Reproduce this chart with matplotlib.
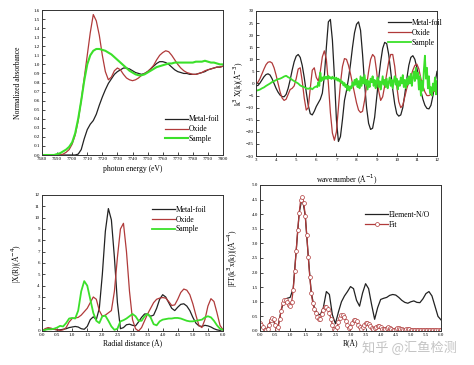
import numpy as np
import matplotlib
matplotlib.use("Agg")
import matplotlib.pyplot as plt

plt.rcParams['font.family'] = ['Liberation Serif', 'DejaVu Serif']

# ---- panel 1: XANES ----
energy = np.arange(7680, 7801, 2)
xanes_foil = [0, 0, 0, 0, 0, 0, 0, 0, 0, 0, 0, 0,
              0.01, 0.06, 0.18, 0.28, 0.34, 0.38, 0.45, 0.55, 0.64, 0.72, 0.79, 0.84,
              0.89, 0.92, 0.94, 0.96, 0.96, 0.95, 0.93, 0.91, 0.90, 0.89, 0.90, 0.92,
              0.95, 0.98, 1.01, 1.03, 1.03, 1.02, 1.00, 0.97, 0.94, 0.92, 0.91, 0.90,
              0.90, 0.89, 0.89, 0.89, 0.90, 0.91, 0.92, 0.94, 0.95, 0.96, 0.97, 0.97, 0.98]
xanes_oxide = [0, 0, 0, 0, 0, 0,
               0.0, 0.01, 0.03, 0.06, 0.12, 0.22, 0.38, 0.60, 0.85, 1.10, 1.35, 1.55,
               1.48, 1.32, 1.10, 0.92, 0.83, 0.86, 0.93, 0.96, 0.94, 0.89, 0.85, 0.83,
               0.82, 0.83, 0.85, 0.88, 0.90, 0.92, 0.95, 0.99, 1.05, 1.10, 1.13, 1.15,
               1.14, 1.10, 1.05, 1.00, 0.96, 0.93, 0.91, 0.90, 0.89, 0.89, 0.90, 0.91,
               0.93, 0.94, 0.95, 0.96, 0.97, 0.97, 0.98]
xanes_sample = [0, 0, 0, 0, 0.0, 0.01, 0.02, 0.04, 0.06, 0.09, 0.14, 0.24, 0.40,
                0.60, 0.82, 1.00, 1.10, 1.15, 1.17, 1.17, 1.16, 1.15, 1.13, 1.11, 1.08,
                1.05, 1.02, 0.99, 0.96, 0.93, 0.91, 0.89, 0.88, 0.88, 0.89, 0.91, 0.93,
                0.95, 0.97, 0.98, 0.99, 1.00, 1.01, 1.01, 1.02, 1.02, 1.02, 1.02, 1.02,
                1.02, 1.02, 1.03, 1.03, 1.03, 1.04, 1.03, 1.02, 1.02, 1.01, 1.00, 1.00]

# ---- panel 2: k^3 chi(k) ----
k = np.round(np.arange(3.0, 12.01, 0.1), 2)
chi_foil = [-1.0, -0.8, 0.2, 1.5, 2.8, 3.7, 4.0, 3.5, 2.0, 0.0,
            -2.0, -3.6, -4.8, -5.4, -5.5, -4.5, -2.0, 1.5, 5.5, 9.0,
            11.3, 12.0, 10.8, 7.5, 2.5, -3.5, -9.0, -12.5, -13.0, -11.5,
            -9.5, -8.0, -6.5, -4.0, 3.0, 15.0, 25.5, 26.5, 18.0, 3.0,
            -15.0, -24.0, -22.0, -15.0, -7.0, -3.0, 2.0, 8.0, 15.0, 21.0,
            24.5, 25.5, 22.0, 12.0, 0.0, -10.0, -16.5, -19.0, -18.5, -14.0,
            -6.0, 2.0, 9.0, 14.5, 17.0, 16.5, 12.0, 5.0, -2.5, -8.5,
            -12.5, -13.5, -13.0, -10.0, -4.5, 2.0, 7.5, 10.8, 11.5, 10.0,
            6.5, 2.0, -3.0, -6.5, -9.0, -10.3, -10.5, -9.0, -5.0, 0.0, 5.0]
chi_oxide = [0.0, 0.5, 2.0, 4.0, 6.0, 7.8, 8.8, 9.0, 8.5, 6.5,
             3.5, 0.0, -3.5, -6.0, -7.0, -6.5, -4.5, -2.5, -2.0, -1.0,
             2.0, 6.0, 6.5, 1.0, -6.0, -11.0, -10.0, -2.0, 5.5, 6.5,
             2.5, 1.0, 5.0, 11.0, 13.5, 10.0, 0.0, -12.0, -20.5, -23.5,
             -20.0, -10.0, 0.0, 7.0, 10.3, 10.0, 7.5, 4.0, 0.0, -4.0,
             -8.0, -11.0, -12.0, -11.5, -7.0, -1.0, 5.0, 10.0, 12.0, 11.0,
             5.0, -3.0, -7.0, -5.5, -1.0, 4.0, 9.0, 12.0, 12.0, 7.0,
             -1.0, -7.5, -10.0, -9.0, -5.5, -2.0, 0.5, 3.0, 5.5, 7.5,
             8.0, 6.0, 2.0, -1.0, -3.5, -5.0, -5.0, -4.5, -3.5, -3.0, -3.0]
chi_sample_a = [-3.0, -2.8, -2.5, -2.0, -1.6, -1.0, -0.5, 0.0, 0.6, 1.0,
                1.4, 1.8, 2.0, 2.4, 2.9, 3.2, 2.6, 2.2, 1.5, 1.0,
                0.5, 0.0, -0.8, -1.2, -1.5, -2.0, -2.2, -1.8, -2.4, -1.6, -1.2]
chi_sample_b = [-1.5, 0.5, -1.0, 4.5, 1.0, 2.5, 1.5, 3.0, 2.0, 2.8,
                1.8, 3.2, 2.2, 2.6, 1.9, 2.8, 2.0, 2.5, 1.6, 2.4,
                1.2, 2.0, 0.8, 1.5, 0.2, 0.8, -0.8, 0.2, -1.5, -0.5,
                -2.8, -1.0, -3.0, -1.2, -2.0, 0.5, -1.0, 1.5, -0.5, 2.0,
                -1.5, 1.0, -2.0, 3.0, -1.0, 2.5, 0.0, 3.5, -0.5, 1.5,
                -2.5, 1.0, -1.5, 2.0, 0.5, 3.0, -1.0, 1.5, -2.0, 0.5,
                2.5, -1.5, 1.0, -2.5, 0.0, 3.0, -0.5, 1.5, -1.5, 2.0,
                -2.0, 0.5, 2.5, -1.0, 1.5, -2.0, 1.0, 3.0, -0.5, 2.0,
                -2.5, 1.0, -1.0, 2.5, 0.0, 3.5, -1.5, 1.5, -2.0, 2.0,
                -0.5, 3.0, 0.0, 4.0, -1.0, 2.5, 5.0, 1.0, 6.5, 2.0,
                4.5, -2.5, 3.0, -5.0, 1.0, -3.0, 6.0, 11.5, 2.0, 6.5,
                -2.0, 3.0, -4.0, -1.5, -5.0, 0.0, -3.0, 2.5, -4.5, 1.0]
k_sample = np.concatenate([np.arange(len(chi_sample_a)) * 0.1 + 3.0,
                           np.arange(1, len(chi_sample_b) + 1) * 0.05 + 6.0])
chi_sample = chi_sample_a + chi_sample_b

# ---- panel 3: |chi(R)| ----
r = np.round(np.arange(0, 6.01, 0.1), 2)
ft_foil = [0.0, 0.1, 0.2, 0.2, 0.15, 0.1, 0.1, 0.15, 0.2, 0.3,
           0.35, 0.4, 0.35, 0.2, 0.15, 0.4, 1.0, 1.25, 1.0, 2.0,
           5.0, 8.8, 10.8, 9.8, 6.5, 2.5, 0.2, 0.3, 0.55, 0.6,
           0.5, 0.45, 0.8, 1.2, 1.5, 1.5, 1.3, 1.4, 2.0, 2.8,
           3.2, 3.0, 2.5, 2.0, 1.8, 2.1, 2.35, 2.4, 2.2, 1.8,
           1.2, 0.7, 0.45, 0.4, 0.5, 0.45, 0.35, 0.2, 0.1, 0.05, 0.15]
ft_oxide = [0.0, 0.2, 0.3, 0.25, 0.15, 0.1, 0.05, 0.1, 0.3, 0.8,
            1.1, 1.15, 1.2, 1.4, 1.7, 2.0, 2.5, 3.0, 2.8, 1.8,
            1.3, 1.4, 1.6, 1.8, 3.5, 6.5, 9.0, 9.5, 7.0, 3.5,
            1.0, 0.2, 0.0, 0.3, 0.9, 1.5, 2.0, 2.5, 2.8, 2.9,
            2.95, 2.9, 2.6, 2.25, 2.3, 2.8, 3.4, 3.7, 3.6, 3.2,
            2.4, 1.4, 0.5, 0.3, 1.0, 2.2, 2.85, 2.6, 1.6, 0.5, 0.1]
ft_sample = [0.0, 0.1, 0.15, 0.15, 0.2, 0.3, 0.45, 0.4, 0.7, 1.1,
             1.15, 1.1, 1.8, 3.5, 4.4, 4.0, 2.8, 1.6, 0.9, 0.7,
             1.3, 1.35, 0.9, 0.4, 0.1, 0.2, 0.85, 0.95, 1.1, 1.3,
             1.5, 1.3, 0.9, 0.9, 1.3, 1.5, 1.2, 0.6, 0.5, 0.85,
             1.0, 1.05, 1.1, 1.1, 1.15, 1.15, 1.1, 1.0, 0.9, 0.85,
             0.85, 0.9, 0.95, 1.0, 1.2, 1.3, 1.2, 0.9, 0.5, 0.2, 0.1]

# ---- panel 4: fit ----
r_fit = np.round(np.arange(0, 6.001, 0.05), 3)
fit = [0.28, 0.20, 0.12, 0.05, 0.02, 0.08, 0.22, 0.38, 0.45, 0.40,
       0.22, 0.08, 0.15, 0.40, 0.70, 0.95, 1.05, 1.05, 0.98, 0.90,
       0.85, 1.00, 1.40, 2.05, 2.75, 3.45, 4.05, 4.50, 4.58, 4.40,
       3.95, 3.30, 2.55, 1.85, 1.30, 0.95, 0.75, 0.60, 0.48, 0.40,
       0.42, 0.58, 0.72, 0.82, 0.83, 0.75, 0.60, 0.42, 0.22, 0.08,
       0.05, 0.12, 0.30, 0.45, 0.55, 0.55, 0.48, 0.35, 0.20, 0.10,
       0.15, 0.28, 0.36, 0.38, 0.33, 0.22, 0.12, 0.08, 0.12, 0.20,
       0.26, 0.27, 0.24, 0.17, 0.10, 0.07, 0.10, 0.15, 0.17, 0.16,
       0.12, 0.08, 0.06, 0.08, 0.11, 0.12, 0.11, 0.08, 0.05, 0.05,
       0.07, 0.09, 0.09, 0.08, 0.06, 0.04, 0.05, 0.06, 0.07, 0.06,
       0.05, 0.04, 0.04, 0.05, 0.05, 0.05, 0.04, 0.03, 0.03, 0.04,
       0.04, 0.04, 0.03, 0.03, 0.03, 0.03, 0.03, 0.03, 0.02, 0.02, 0.02]
ft_element = [0.28, 0.12, 0.02, 0.22, 0.45, 0.22, 0.15, 0.70, 1.05, 1.12,
              1.15, 1.45, 2.75, 4.05, 4.58, 3.95, 2.55, 1.30, 0.80, 0.60,
              0.55, 0.80, 1.35, 1.25, 0.55, 0.25, 0.65, 1.00, 1.20, 1.35,
              1.52, 1.45, 1.05, 0.85, 1.30, 1.62, 1.45, 0.90, 0.40, 0.80,
              1.08, 1.12, 1.15, 1.22, 1.25, 1.23, 1.15, 1.05, 0.98, 0.95,
              1.00, 1.03, 0.98, 0.97, 1.10, 1.28, 1.35, 1.20, 0.85, 0.50, 0.38]

BLACK = '#222222'
RED = '#b03a3a'
GREEN = '#3be02a'
TICK_FS = 3.6
LAB_FS = 5.5

fig = plt.figure(figsize=(4.74, 3.65), dpi=100)
ax1 = fig.add_axes([0.0886, 0.5753, 0.3819, 0.3973])
ax2 = fig.add_axes([0.540, 0.5726, 0.3819, 0.3973])
ax3 = fig.add_axes([0.0886, 0.0932, 0.3819, 0.3726])
ax4 = fig.add_axes([0.5485, 0.0932, 0.3819, 0.4000])

for ax in (ax1, ax2, ax3, ax4):
    ax.tick_params(labelsize=TICK_FS, direction='in', length=2, width=0.5, pad=1.5)
    for s in ax.spines.values():
        s.set_linewidth(0.7)
        s.set_color('#333333')

leg_kw = dict(loc='upper left', frameon=False, fontsize=LAB_FS, handlelength=3.0,
              handletextpad=0.1, labelspacing=0.25, borderpad=0)

# panel 1
ax1.plot(energy, xanes_foil, color=BLACK, lw=0.9, label='Metal-foil')
ax1.plot(energy, xanes_oxide, color=RED, lw=0.9, label='Oxide')
ax1.plot(energy, xanes_sample, color=GREEN, lw=1.5, label='Sample')
ax1.set_xlim(7680, 7800)
ax1.set_ylim(0, 1.6)
ax1.set_xticks(np.arange(7680, 7801, 10))
ax1.set_yticks(np.arange(0, 1.61, 0.1))
ax1.set_yticklabels(['%.1f' % v for v in np.arange(0, 1.61, 0.1)])
ax1.set_xlabel('photon energy (eV)', fontsize=LAB_FS, labelpad=3)
ax1.set_ylabel('Normalized absorbance', fontsize=LAB_FS, labelpad=8)
ax1.legend(bbox_to_anchor=(0.66, 0.30), **leg_kw)

# panel 2
ax2.plot(k, chi_foil, color=BLACK, lw=0.9, label='Metal-foil')
ax2.plot(k, chi_oxide, color=RED, lw=0.9, label='Oxide')
ax2.plot(k_sample, chi_sample, color=GREEN, lw=1.3, label='Sample')
ax2.set_xlim(3, 12)
ax2.set_ylim(-30, 30)
ax2.set_xticks(np.arange(3, 13, 1))
ax2.set_yticks(np.arange(-30, 31, 5))
ax2.set_xlabel('wavenumber (Å$^{-1}$)', fontsize=LAB_FS, labelpad=8)
ax2.set_ylabel('k$^{3}$ X(k)(Å$^{-3}$)', fontsize=LAB_FS, labelpad=0)
ax2.legend(bbox_to_anchor=(0.71, 0.97), **leg_kw)

# panel 3
ax3.plot(r, ft_foil, color=BLACK, lw=0.9, label='Metal-foil')
ax3.plot(r, ft_oxide, color=RED, lw=0.9, label='Oxide')
ax3.plot(r, ft_sample, color=GREEN, lw=1.3, label='Sample')
ax3.set_xlim(0, 6)
ax3.set_ylim(0, 12)
ax3.set_xticks(np.arange(0, 6.01, 0.5))
ax3.set_xticklabels(['%.1f' % v for v in np.arange(0, 6.01, 0.5)])
ax3.set_yticks(np.arange(0, 13, 1))
ax3.set_xlabel('Radial distance (Å)', fontsize=LAB_FS, labelpad=2)
ax3.set_ylabel('|X(R)|(Å$^{-4}$)', fontsize=LAB_FS, labelpad=8)
ax3.legend(bbox_to_anchor=(0.585, 0.95), **leg_kw)

# panel 4
ax4.plot(r, ft_element, color=BLACK, lw=0.9, label='Element-N/O')
ax4.plot(r_fit, fit, color=RED, lw=0.9, marker='o', markersize=2.8,
         markerfacecolor='white', markeredgecolor=RED, markeredgewidth=0.5, label='Fit')
ax4.set_xlim(0, 6)
ax4.set_ylim(0, 5)
ax4.set_xticks(np.arange(0, 6.01, 0.5))
ax4.set_xticklabels(['%.1f' % v for v in np.arange(0, 6.01, 0.5)])
ax4.set_yticks(np.arange(0, 5.01, 0.5))
ax4.set_yticklabels(['%.1f' % v for v in np.arange(0, 5.01, 0.5)])
ax4.set_xlabel('R(Å)', fontsize=LAB_FS, labelpad=2)
ax4.set_ylabel('|FT(k$^{3}$x(k))|(Å$^{-4}$)', fontsize=LAB_FS, labelpad=8)
ax4.legend(bbox_to_anchor=(0.56, 0.85), **leg_kw)

fig.text(0.965, 0.048, '知乎 @汇鱼检测', ha='right', va='center', fontsize=9.5,
         color='#c4c4c4', family=['Noto Sans CJK SC', 'DejaVu Sans'])

fig.savefig('out.png', dpi=100)
